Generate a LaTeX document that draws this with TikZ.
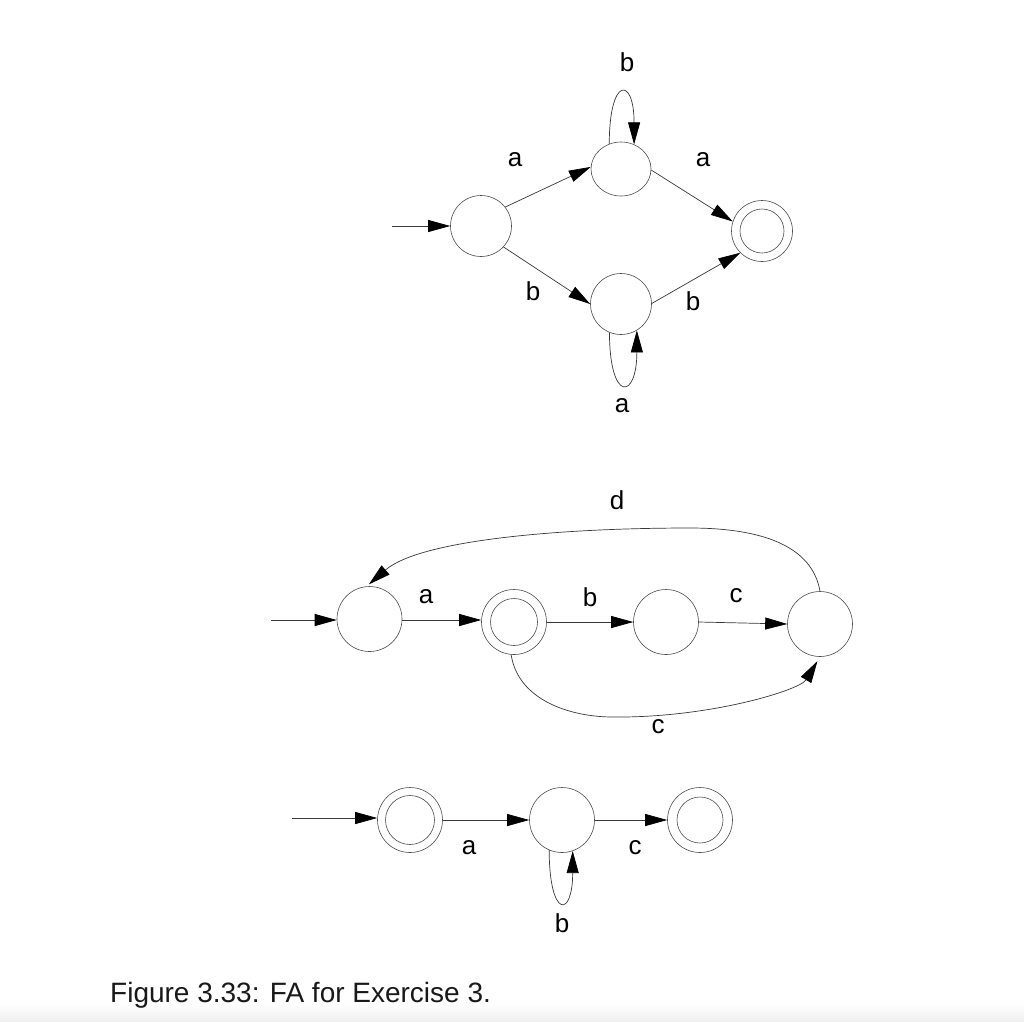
\documentclass[tikz,border=0pt]{standalone}
\usepackage{fontspec}
\setmainfont{Liberation Sans}
\usetikzlibrary{arrows.meta,shapes.geometric}
\tikzset{
  st/.style={circle, draw=black!70, line width=0.6pt, inner sep=0pt, minimum size=#1},
  st/.default=65pt,
  inr/.style={draw=black!70, line width=0.6pt},
  ed/.style={draw=black!78, line width=0.7pt, -{Triangle[length=22pt,width=12pt,color=black]}},
  lab/.style={inner sep=0pt, font=\fontsize{26}{30}\selectfont},
}
\begin{document}
\begin{tikzpicture}[x=1pt,y=-1pt]
\useasboundingbox (0,0) rectangle (1024,1021);
\fill[white] (0,0) rectangle (1024,1021);
\shade[top color=white, bottom color=black!6] (0,1003) rectangle (1024,1021);

% ---------- top automaton ----------
\node[st=61pt] (q0) at (481,226) {};
\node[ellipse, draw=black!70, line width=0.6pt, inner sep=0pt, minimum width=60pt, minimum height=54pt] (q1) at (621,169) {};
\node[st=61pt] (q2) at (621,304) {};
\node[st=61pt] (q3) at (762,231) {};
\draw[inr] (q3.center) circle[radius=22pt];
\coordinate (s1) at (392,226);

\draw[ed] (s1) -- (q0.west);
\draw[ed] (q0.38) -- (q1.176);
\draw[ed] (q1.-2) -- (q3.162);
\draw[ed] (q0.-43) -- (q2.180);
\draw[ed] (q2.1) -- (q3.-135);
\draw[ed] (q1.115) .. controls +(0,-68) and +(0,-68) .. (q1.62);
\draw[ed] (q2.-112) .. controls +(0,70) and +(0,70) .. (q2.-59);

\node[lab] (l1) at (627,62) {b};
\node[lab] (l2) at (515,160) {a};
\node[lab] (l3) at (703,160) {a};
\node[lab] (l4) at (533,291) {b};
\node[lab] (l5) at (693,301) {b};
\node[lab] (l6) at (622,406) {a};

% ---------- middle automaton ----------
\node[st] (p0) at (369.5,619) {};
\node[st] (p1) at (514,622) {};
\draw[inr] (p1.center) circle[radius=23.5pt];
\node[st] (p2) at (666,622) {};
\node[st] (p3) at (820,624) {};
\coordinate (s2) at (271,620);

\draw[ed] (s2) -- (p0.west |- s2);
\draw[ed] (p0.east |- s2) -- (p1.west |- s2);
\draw[ed] (p1.east) -- (p2.west);
\draw[ed] (p2.east) -- (p3.west);
\draw[ed, shorten >=3pt] (p3.north) .. controls (812,545) and (760,528) .. (690,528)
      .. controls (560,528) and (420,540) .. (p0.95);
\draw[ed, shorten >=5pt] (p1.265) .. controls (518,700) and (570,717) .. (613,717)
      .. controls (710,718) and (800,690) .. (p3.south);

\node[lab] (m1) at (426,597) {a};
\node[lab] (m2) at (590,597) {b};
\node[lab] (m3) at (736,596) {c};
\node[lab] (m4) at (617,500) {d};
\node[lab] (m5) at (658,727) {c};

% ---------- bottom automaton ----------
\node[st] (r0) at (410,820) {};
\draw[inr] (r0.center) circle[radius=24.5pt];
\node[st] (r1) at (562,820) {};
\node[st] (r2) at (700,820) {};
\draw[inr] (r2.center) circle[radius=23pt];
\coordinate (s3) at (292,818);

\draw[ed] (s3) -- (r0.west |- s3);
\draw[ed] (r0.east) -- (r1.west);
\draw[ed] (r1.east) -- (r2.west);
\draw[ed] (r1.-113) .. controls +(0,68) and +(0,68) .. (r1.-71);

\node[lab] (n1) at (469,848) {a};
\node[lab] (n2) at (635,848) {c};
\node[lab] (n3) at (562,923) {b};

% ---------- caption ----------
\node[anchor=base west, inner sep=0pt, text=black!90, font=\fontsize{28}{32}\selectfont] (cap) at (110,1002)
  {Figure {\rmfamily 3.33}: FA for Exercise 3.};
\end{tikzpicture}
\end{document}
